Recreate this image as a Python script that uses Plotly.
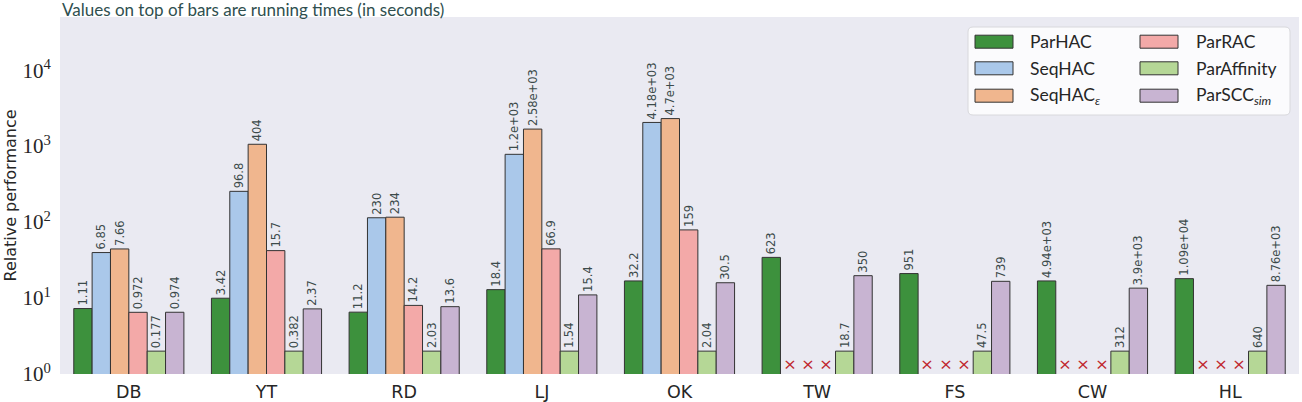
import plotly.graph_objects as go

# datasets on the x axis
graphs = ["DB", "YT", "RD", "LJ", "OK", "TW", "FS", "CW", "HL"]

# running times in seconds (label on top of every bar), None = did not finish
parhac = [1.11, 3.42, 11.2, 18.4, 32.2, 623, 951, 4940, 10900]
seqhac = [6.85, 96.8, 230, 1200, 4180, None, None, None, None]
seqhac_eps = [7.66, 404, 234, 2580, 4700, None, None, None, None]
parrac = [0.972, 15.7, 14.2, 66.9, 159, None, None, None, None]
paraffinity = [0.177, 0.382, 2.03, 1.54, 2.04, 18.7, 47.5, 312, 640]
parscc = [0.974, 2.37, 13.6, 15.4, 30.5, 350, 739, 3900, 8760]

# relative performance (bar heights)
rel_parhac = [7.27, 9.95, 6.52, 12.9, 16.8, 34.3, 21.0, 16.8, 18.0]
rel_seqhac = [39.7, 254, 114, 780, 2050, None, None, None, None]
rel_seqhac_eps = [44.3, 1058, 116, 1676, 2305, None, None, None, None]
rel_parrac = [6.49, 42.1, 8.0, 44.4, 78.9, None, None, None, None]
rel_paraffinity = [2, 2, 2, 2, 2, 2, 2, 2, 2]
rel_parscc = [6.5, 7.2, 7.7, 11.0, 15.9, 19.7, 16.6, 13.5, 14.7]

names = ["ParHAC", "SeqHAC", "SeqHAC<sub><i>ε</i></sub>", "ParRAC", "ParAffinity",
         "ParSCC<sub><i>sim</i></sub>"]
colors = ["#3d913d", "#aac8ea", "#f0b68e", "#f3a9a8", "#b5d796", "#c8b4d2"]
times = [parhac, seqhac, seqhac_eps, parrac, paraffinity, parscc]
heights = [rel_parhac, rel_seqhac, rel_seqhac_eps, rel_parrac, rel_paraffinity, rel_parscc]

W, H = 1302, 402
L, R, T, B = 60, 3, 17, 28


def px(x):
    return (x - L) / (W - L - R)


def py(y):
    return (H - B - y) / (H - T - B)


fig = go.Figure()
for name, col, t, h in zip(names, colors, times, heights):
    ys, txt, tcol, tsize, lw = [], [], [], [], []
    for tv, hv in zip(t, h):
        if tv is None:
            # did not finish: red cross sitting on the baseline
            ys.append(1.0)
            txt.append("×")
            tcol.append("#c0262d")
            tsize.append(15)
            lw.append(0)
        else:
            ys.append(hv)
            txt.append("{:.3g}".format(tv))
            tcol.append("#3c4a4a")
            tsize.append(11.5)
            lw.append(1)
    fig.add_trace(go.Bar(
        x=graphs, y=ys, name=name, text=txt, textposition="outside",
        textangle=-90, constraintext="none", cliponaxis=False,
        textfont=dict(family="DejaVu Sans", size=tsize, color=tcol),
        marker=dict(color=col, line=dict(color="#333333", width=lw)),
        showlegend=False))

# hand-drawn legend box to mimic the matplotlib one
shapes = []
x0, x1, y0, y1, r = px(968), px(1290), py(27), py(115), 5
rx, ry = px(968 + r) - px(968), py(27) - py(27 + r)
path = ("M {a},{b} L {c},{b} Q {x1},{y0} {x1},{d} L {x1},{e} Q {x1},{y1} {c},{y1} "
        "L {a},{y1} Q {x0},{y1} {x0},{e} L {x0},{d} Q {x0},{y0} {a},{b} Z").format(
    a=x0 + rx, b=y0, c=x1 - rx, d=y0 - ry, e=y1 + ry, x0=x0, x1=x1, y0=y0, y1=y1)
shapes.append(dict(type="path", xref="paper", yref="paper", path=path,
                   fillcolor="rgba(255,255,255,0.8)", line=dict(color="#d8d8dc", width=1)))

annotations = []
rows = [41.7, 68.3, 95.7]
cols = [(975, 1028), (1140, 1194)]
for i, (name, col) in enumerate(zip(names, colors)):
    sx, tx = cols[i // 3]
    cy = rows[i % 3]
    shapes.append(dict(type="rect", xref="paper", yref="paper",
                       x0=px(sx), x1=px(sx + 38), y0=py(cy + 6.5), y1=py(cy - 6.5),
                       fillcolor=col, line=dict(color="#333333", width=1)))
    annotations.append(dict(xref="paper", yref="paper", x=px(tx), y=py(cy),
                            xanchor="left", yanchor="middle", showarrow=False, text=name,
                            font=dict(family="Lato", size=17.5, color="#262626")))

annotations.append(dict(xref="paper", yref="paper", x=0, y=py(9), xanchor="left",
                        yanchor="middle", showarrow=False,
                        text="Values on top of bars are running times (in seconds)",
                        font=dict(family="Lato", size=17, color="#2f4f4f")))
annotations.append(dict(xref="paper", yref="paper", x=px(10), y=py(195.5), xanchor="center",
                        yanchor="middle", showarrow=False, textangle=-90,
                        text="Relative performance",
                        font=dict(family="DejaVu Sans", size=16, color="#262626")))

fig.update_layout(
    width=W, height=H, margin=dict(l=L, r=R, t=T, b=B),
    paper_bgcolor="white", plot_bgcolor="#eaeaf2",
    barmode="group", bargap=0.2, bargroupgap=0,
    shapes=shapes, annotations=annotations,
    xaxis=dict(showgrid=False, automargin=False, ticks="outside", ticklen=2,
               tickcolor="rgba(0,0,0,0)",
               tickfont=dict(family="DejaVu Sans", size=17.5, color="#262626")),
    yaxis=dict(type="log", range=[0, 4.7], showgrid=False, zeroline=False, automargin=False,
               ticks="outside", ticklen=4, tickcolor="rgba(0,0,0,0)",
               tickvals=[1, 10, 100, 1000, 10000],
               ticktext=["10<sup>0</sup>", "10<sup>1</sup>", "10<sup>2</sup>",
                         "10<sup>3</sup>", "10<sup>4</sup>"],
               tickfont=dict(family="Liberation Serif", size=21, color="#262626")),
)

fig.write_html("out.html", config={"displayModeBar": False},
               post_script="document.body.style.margin = '0';")
